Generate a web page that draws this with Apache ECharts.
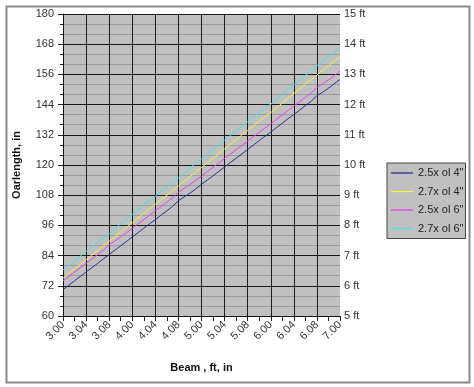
<!DOCTYPE html>
<html>
<head>
<meta charset="utf-8">
<script src="https://cdn.jsdelivr.net/npm/echarts@6/dist/echarts.min.js"></script>
<style>
html,body{margin:0;padding:0;background:#fff;}
#chart{width:474px;height:387px;}
</style>
</head>
<body>
<div id="chart"></div>
<script>
const categories = [
  '3.00','3.01','3.02','3.03','3.04','3.05','3.06','3.07','3.08','3.09','3.10','3.11',
  '4.00','4.01','4.02','4.03','4.04','4.05','4.06','4.07','4.08','4.09','4.10','4.11',
  '5.00','5.01','5.02','5.03','5.04','5.05','5.06','5.07','5.08','5.09','5.10','5.11',
  '6.00','6.01','6.02','6.03','6.04','6.05','6.06','6.07','6.08','6.09','6.10','6.11',
  '7.00'
];
const rightTickLabels = ['5 ft','6 ft','7 ft','8 ft','9 ft','10 ft','11 ft','12 ft','13 ft','14 ft','15 ft'];
const seriesNames = ['2.5x ol 4"', '2.7x ol 4"', '2.5x ol 6"', '2.7x ol 6"'];

const s25ol4 = [70.5,72.2,74.0,75.7,77.5,79.2,80.9,82.7,84.4,86.2,87.9,89.6,
  91.4,93.1,94.9,96.6,98.3,100.1,101.8,103.6,105.8,107.3,108.8,110.5,
  112.3,114.0,115.7,117.5,119.2,121.0,122.7,124.4,126.2,127.9,129.7,131.4,
  133.1,134.9,136.6,138.4,140.1,141.8,143.6,145.3,147.6,148.9,150.5,152.3,154.0];
const s27ol4 = [75.0,76.8,78.7,80.5,82.3,84.2,86.0,87.8,89.7,91.5,93.4,95.2,
  97.0,98.9,100.7,102.5,104.4,106.2,108.0,109.9,111.7,113.5,115.4,117.2,
  119.0,120.9,122.7,124.5,126.4,128.2,130.1,131.9,133.7,135.6,137.4,139.2,
  140.8,142.7,144.6,146.5,148.4,150.2,152.1,153.9,155.7,157.6,159.4,161.2,163.1];
const s25ol6 = [74.0,75.7,77.5,79.2,80.9,82.7,84.4,86.1,88.3,89.8,91.4,93.1,
  94.8,96.6,98.3,100.0,101.8,103.5,105.2,107.0,109.2,110.7,112.2,113.9,
  115.6,117.4,119.1,120.8,122.6,124.3,126.1,127.8,129.5,131.3,133.0,134.7,
  136.4,138.2,139.9,141.7,143.4,145.1,146.9,148.6,150.8,152.3,153.8,155.5,157.3];
const s27ol6 = [78.3,80.1,82.0,83.8,85.7,87.5,89.3,91.0,92.6,94.6,96.7,98.5,
  100.4,102.2,104.1,105.9,107.7,109.6,111.4,113.1,114.8,116.7,118.8,120.6,
  122.4,124.3,126.1,128.0,129.8,131.7,133.5,135.3,137.2,139.0,140.9,142.7,
  144.2,146.2,148.2,150.1,151.9,153.7,155.6,157.4,159.5,161.1,162.9,164.8,166.6];

const seriesData = [s25ol4, s27ol4, s25ol6, s27ol6];
const seriesColors = ['#2e2e8c', '#f2f24a', '#e442e4', '#48e4e4'];

const chart = echarts.init(document.getElementById('chart'), null, {renderer: 'canvas'});
const font = 'Liberation Sans, Arial, sans-serif';

chart.setOption({
  animation: false,
  backgroundColor: '#ffffff',
  textStyle: {fontFamily: font},
  graphic: [{
    type: 'rect', left: 4, top: 4, z: 100, silent: true,
    shape: {width: 463, height: 376},
    style: {fill: 'none', stroke: '#8a8a8a', lineWidth: 2}
  }],
  grid: {
    left: 63, right: 134, top: 14, bottom: 71,
    show: true, backgroundColor: '#c0c0c0', borderWidth: 0
  },
  legend: {
    orient: 'vertical', left: 387, top: 163,
    backgroundColor: '#c0c0c0', borderColor: '#444', borderWidth: 1,
    padding: [3, 2, 3, 4], itemGap: 4.5, itemWidth: 22, itemHeight: 14, itemTextGap: 4,
    icon: 'path://M0,0 L22,0 L22,1.3 L0,1.3 Z',
    textStyle: {fontFamily: font, fontSize: 11, color: '#222', lineHeight: 14},
    data: seriesNames
  },
  xAxis: {
    type: 'category', data: categories, boundaryGap: false,
    name: 'Beam , ft, in', nameLocation: 'middle', nameGap: 46,
    nameTextStyle: {fontFamily: font, fontSize: 11, fontWeight: 'bold', color: '#111'},
    axisLine: {lineStyle: {color: '#111', width: 1}},
    axisTick: {show: true, interval: 1, length: 5, inside: false, lineStyle: {color: '#222'}},
    axisLabel: {interval: 3, rotate: 45, margin: 7, fontSize: 11, fontFamily: font, color: '#333'},
    splitLine: {show: true, interval: function (i) { return i % 4 === 0 && i > 0 && i < 48; },
      lineStyle: {color: '#1a1a1a', width: 1}}
  },
  yAxis: [{
    type: 'value', min: 60, max: 180, interval: 12, position: 'left',
    name: 'Oarlength, in', nameLocation: 'middle', nameGap: 41, nameRotate: 90,
    nameTextStyle: {fontFamily: font, fontSize: 11, fontWeight: 'bold', color: '#111'},
    axisLine: {show: true, lineStyle: {color: '#111', width: 1}},
    axisTick: {show: true, length: 5, lineStyle: {color: '#222'}},
    minorTick: {show: true, splitNumber: 3, length: 3, lineStyle: {color: '#222'}},
    axisLabel: {margin: 9, fontSize: 11, fontFamily: font, color: '#333'},
    splitLine: {show: true, lineStyle: {color: '#1a1a1a', width: 1}},
    minorSplitLine: {show: true, lineStyle: {color: '#9c9c9c', width: 1}}
  }, {
    type: 'value', min: 60, max: 180, interval: 12, position: 'right',
    axisLine: {show: false}, axisTick: {show: false},
    splitLine: {show: false},
    axisLabel: {margin: 4, fontSize: 11, fontFamily: font, color: '#333',
      formatter: function (v) { return rightTickLabels[Math.round((v - 60) / 12)]; }}
  }],
  series: seriesNames.map(function (n, i) {
    return {
      name: n, type: 'line', data: seriesData[i], yAxisIndex: 0,
      symbol: 'none', showSymbol: false, smooth: false,
      lineStyle: {color: seriesColors[i], width: 1},
      itemStyle: {color: seriesColors[i]}
    };
  })
});
</script>
</body>
</html>
